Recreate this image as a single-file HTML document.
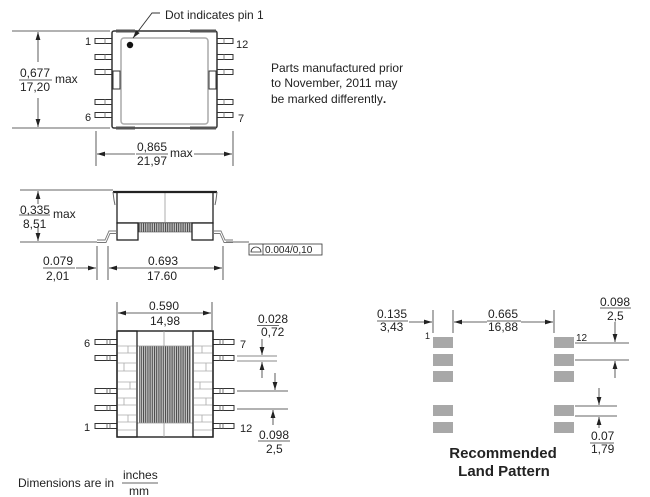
<!DOCTYPE html>
<html><head><meta charset="utf-8"><style>
html,body{margin:0;padding:0;background:#fff;}
svg{display:block;}
text{font-family:"Liberation Sans",Arial,sans-serif;fill:#222;}
</style></head><body>
<svg width="650" height="497" viewBox="0 0 650 497" xmlns="http://www.w3.org/2000/svg">
<defs>
<marker id="a" viewBox="0 0 10 6" refX="10" refY="3" markerWidth="8" markerHeight="5" markerUnits="userSpaceOnUse" orient="auto-start-reverse"><path d="M0,0 L10,3 L0,6 z" fill="#222"/></marker>
<pattern id="hv" patternUnits="userSpaceOnUse" width="2.2" height="10"><rect width="2.2" height="10" fill="#c8c8c8"/><rect width="1" height="10" fill="#444"/></pattern>
</defs>

<!-- ============ TOP VIEW ============ -->
<g stroke="#333" stroke-width="0.8" fill="none">
  <line x1="12" y1="31" x2="110" y2="31"/>
  <line x1="12" y1="128" x2="110" y2="128"/>
  <line x1="38" y1="62" x2="38" y2="32" marker-end="url(#a)"/>
  <line x1="38" y1="98" x2="38" y2="127" marker-end="url(#a)"/>
  <line x1="19" y1="80" x2="52" y2="80"/>
  <line x1="96" y1="131" x2="96" y2="166"/>
  <line x1="233" y1="131" x2="233" y2="166"/>
  <line x1="135" y1="154" x2="97" y2="154" marker-end="url(#a)"/>
  <line x1="194" y1="154" x2="232" y2="154" marker-end="url(#a)"/>
  <line x1="136" y1="154" x2="168" y2="154"/>
</g>
<text x="20" y="77" font-size="12">0,677</text>
<text x="20" y="91" font-size="12">17,20</text>
<text x="55" y="83" font-size="12">max</text>
<text x="137" y="151" font-size="12">0,865</text>
<text x="137" y="165" font-size="12">21,97</text>
<text x="170" y="157" font-size="12">max</text>

<!-- pins top view -->
<g stroke="#333" stroke-width="1" fill="#fff">
  <rect x="95" y="38.5" width="17" height="5"/><rect x="95" y="54.5" width="17" height="5"/><rect x="95" y="69.5" width="17" height="5"/><rect x="95" y="99.5" width="17" height="5"/><rect x="95" y="112.5" width="17" height="5"/>
  <rect x="217" y="38.5" width="16" height="5"/><rect x="217" y="54.5" width="16" height="5"/><rect x="217" y="69.5" width="16" height="5"/><rect x="217" y="99.5" width="16" height="5"/><rect x="217" y="112.5" width="16" height="5"/>
</g>
<g stroke="#666" stroke-width="0.8">
  <line x1="105" y1="38" x2="105" y2="44"/><line x1="105" y1="54" x2="105" y2="60"/><line x1="105" y1="69" x2="105" y2="75"/><line x1="105" y1="99" x2="105" y2="105"/><line x1="105" y1="112" x2="105" y2="118"/>
  <line x1="224" y1="38" x2="224" y2="44"/><line x1="224" y1="54" x2="224" y2="60"/><line x1="224" y1="69" x2="224" y2="75"/><line x1="224" y1="99" x2="224" y2="105"/><line x1="224" y1="112" x2="224" y2="118"/>
</g>
<!-- body -->
<rect x="112" y="31" width="105" height="97" rx="2" fill="#fff" stroke="#333" stroke-width="1.5"/>
<rect x="121" y="38" width="87" height="86" rx="3" fill="#fff" stroke="#aaa" stroke-width="1.5"/>
<rect x="116" y="29.5" width="19" height="3" fill="#555"/>
<rect x="190" y="29.5" width="26" height="3" fill="#555"/>
<rect x="116" y="126.5" width="19" height="3" fill="#555"/>
<rect x="190" y="126.5" width="26" height="3" fill="#555"/>
<rect x="113" y="71" width="7" height="18" fill="#fff" stroke="#333" stroke-width="1"/>
<rect x="209" y="71" width="7" height="18" fill="#fff" stroke="#333" stroke-width="1"/>
<circle cx="130" cy="45" r="3.2" fill="#111"/>
<polyline points="160,13 152,13 133,38" fill="none" stroke="#333" stroke-width="0.9" marker-end="url(#a)"/>
<text x="165" y="19" font-size="12">Dot indicates pin 1</text>
<text x="85" y="45" font-size="11">1</text>
<text x="85" y="121" font-size="11">6</text>
<text x="236" y="48" font-size="11">12</text>
<text x="238" y="122" font-size="11">7</text>

<text x="271" y="72" font-size="12">Parts manufactured prior</text>
<text x="271" y="87" font-size="12">to November, 2011 may</text>
<text x="271" y="103" font-size="12">be marked differently<tspan font-weight="bold">.</tspan></text>

<!-- ============ SIDE VIEW ============ -->
<g stroke="#333" stroke-width="0.8" fill="none">
  <line x1="20" y1="190" x2="113" y2="190"/>
  <line x1="20" y1="242" x2="97" y2="242"/>
  <line x1="38" y1="204" x2="38" y2="191" marker-end="url(#a)"/>
  <line x1="38" y1="226" x2="38" y2="241" marker-end="url(#a)"/>
  <line x1="19" y1="215" x2="50" y2="215"/>
  <line x1="97" y1="246" x2="97" y2="280"/>
  <line x1="108" y1="246" x2="108" y2="280"/>
  <line x1="223" y1="246" x2="223" y2="280"/>
  <line x1="76" y1="268" x2="96" y2="268" marker-end="url(#a)"/>
  <line x1="43" y1="268" x2="75" y2="268"/>
  <line x1="109" y1="268" x2="222" y2="268" marker-start="url(#a)" marker-end="url(#a)"/>
  <line x1="226" y1="242" x2="249" y2="242"/>
</g>
<text x="20" y="214" font-size="12">0,335</text>
<text x="23" y="228" font-size="12">8,51</text>
<text x="53" y="218" font-size="12">max</text>
<text x="43" y="265" font-size="12">0.079</text>
<text x="46" y="280" font-size="12">2,01</text>
<text x="148" y="265" font-size="12">0.693</text>
<text x="147" y="280" font-size="12">17.60</text>

<!-- side body -->
<rect x="117" y="192" width="96" height="31" fill="#fff" stroke="#222" stroke-width="1.3"/>
<line x1="165" y1="192" x2="165" y2="223" stroke="#999" stroke-width="0.8"/>
<line x1="113" y1="192" x2="217" y2="192" stroke="#222" stroke-width="2.2"/>
<polyline points="113,192 114,200 115,205" fill="none" stroke="#666" stroke-width="1"/>
<polyline points="217,192 216,200 215,205" fill="none" stroke="#666" stroke-width="1"/>
<rect x="138" y="223" width="54" height="9" fill="url(#hv)" stroke="#555" stroke-width="0.6"/>
<rect x="117" y="223" width="21" height="17" fill="#fff" stroke="#222" stroke-width="1.3"/>
<rect x="192" y="223" width="21" height="17" fill="#fff" stroke="#222" stroke-width="1.3"/>
<g fill="none" stroke="#777" stroke-width="0.9">
  <polyline points="97,240 105,240 109,231 117,231"/>
  <polyline points="97,242.5 106,242.5 110,233.5 117,233.5"/>
  <polyline points="213,231 221,231 225,240 233,240"/>
  <polyline points="213,233.5 220,233.5 224,242.5 233,242.5"/>
</g>
<!-- flatness box -->
<rect x="249" y="244" width="73" height="11" fill="#fff" stroke="#333" stroke-width="0.8"/>
<line x1="263" y1="244" x2="263" y2="255" stroke="#333" stroke-width="0.8"/>
<path d="M251,252 A5,5 0 0 1 261,252 Z" fill="none" stroke="#333" stroke-width="0.8"/>
<text x="265" y="253" font-size="10">0.004/0,10</text>

<!-- ============ BOTTOM VIEW ============ -->
<g stroke="#333" stroke-width="0.8" fill="none">
  <line x1="117" y1="302" x2="117" y2="330"/>
  <line x1="212" y1="302" x2="212" y2="330"/>
  <line x1="118" y1="313" x2="211" y2="313" marker-start="url(#a)" marker-end="url(#a)"/>
</g>
<text x="149" y="310" font-size="12">0.590</text>
<text x="150" y="325" font-size="12">14,98</text>

<!-- pins bottom view -->
<g stroke="#333" stroke-width="1" fill="#fff">
  <rect x="95" y="339.5" width="22" height="5"/><rect x="95" y="355.5" width="22" height="5"/><rect x="95" y="388.5" width="22" height="5"/><rect x="95" y="405.5" width="22" height="5"/><rect x="95" y="423.5" width="22" height="5"/>
  <rect x="213" y="339.5" width="21" height="5"/><rect x="213" y="355.5" width="21" height="5"/><rect x="213" y="388.5" width="21" height="5"/><rect x="213" y="405.5" width="21" height="5"/><rect x="213" y="423.5" width="21" height="5"/>
</g>
<g stroke="#555" stroke-width="0.8">
  <path d="M107,339v6M110,339v6M107,355v6M110,355v6M107,388v6M110,388v6M107,405v6M110,405v6M107,423v6M110,423v6"/>
  <path d="M220,339v6M223,339v6M220,355v6M223,355v6M220,388v6M223,388v6M220,405v6M223,405v6M220,423v6M223,423v6"/>
</g>
<!-- body -->
<rect x="117" y="331" width="96" height="106" fill="#fff" stroke="#222" stroke-width="1.4"/>
<rect x="139" y="346" width="52" height="77" fill="url(#hv)"/>
<line x1="137" y1="346" x2="193" y2="346" stroke="#999" stroke-width="0.8"/>
<line x1="137" y1="423" x2="193" y2="423" stroke="#999" stroke-width="0.8"/>
<line x1="164" y1="331" x2="164" y2="346" stroke="#999" stroke-width="0.8"/>
<line x1="164" y1="423" x2="164" y2="437" stroke="#999" stroke-width="0.8"/>
<rect x="117" y="331" width="20" height="106" fill="none" stroke="#222" stroke-width="1.3"/>
<rect x="193" y="331" width="20" height="106" fill="none" stroke="#222" stroke-width="1.3"/>
<g stroke="#aaa" stroke-width="0.8" fill="none">
  <path d="M118,346H136M118,353H136M118,363H136M118,371H136M118,382H136M118,389H136M118,398H136M118,405H136M118,415H136M118,422H136M118,430H136"/>
  <path d="M194,346H212M194,353H212M194,363H212M194,371H212M194,382H212M194,389H212M194,398H212M194,405H212M194,415H212M194,422H212M194,430H212"/>
  <path d="M128,346v7M124,363v8M130,382v7M124,398v7M128,415v7M202,346v7M206,363v8M200,382v7M206,398v7M202,415v7"/>
</g>
<text x="84" y="347" font-size="11">6</text>
<text x="84" y="431" font-size="11">1</text>
<text x="240" y="348" font-size="11">7</text>
<text x="240" y="432" font-size="11">12</text>

<!-- right dims bottom view -->
<text x="258" y="323" font-size="12">0.028</text>
<line x1="257" y1="325.5" x2="279" y2="325.5" stroke="#333" stroke-width="0.8"/>
<text x="261" y="336" font-size="12">0,72</text>
<g stroke="#888" stroke-width="0.9"><line x1="237" y1="356" x2="277" y2="356"/><line x1="237" y1="361" x2="277" y2="361"/></g>
<g stroke="#333" stroke-width="0.8" fill="none">
  <line x1="262" y1="339" x2="262" y2="355" marker-end="url(#a)"/>
  <line x1="262" y1="378" x2="262" y2="362" marker-end="url(#a)"/>
  <line x1="237" y1="391" x2="288" y2="391"/>
  <line x1="237" y1="409" x2="288" y2="409"/>
  <line x1="275" y1="373" x2="275" y2="390" marker-end="url(#a)"/>
  <line x1="273" y1="425" x2="273" y2="410" marker-end="url(#a)"/>
  <line x1="258" y1="441" x2="290" y2="441"/>
</g>
<text x="259" y="439" font-size="12">0.098</text>
<text x="266" y="453" font-size="12">2,5</text>

<!-- ============ LAND PATTERN ============ -->
<g fill="#a8a8a8">
  <rect x="433" y="337" width="20" height="11"/><rect x="433" y="354" width="20" height="12"/><rect x="433" y="371" width="20" height="11"/><rect x="433" y="405" width="20" height="11"/><rect x="433" y="422" width="20" height="11"/>
  <rect x="554" y="337" width="20" height="11"/><rect x="554" y="354" width="20" height="12"/><rect x="554" y="371" width="20" height="11"/><rect x="554" y="405" width="20" height="11"/><rect x="554" y="422" width="20" height="11"/>
</g>
<g stroke="#333" stroke-width="0.8" fill="none">
  <line x1="433" y1="310" x2="433" y2="333"/>
  <line x1="453" y1="310" x2="453" y2="333"/>
  <line x1="554" y1="310" x2="554" y2="333"/>
  <line x1="377" y1="322" x2="432" y2="322" marker-end="url(#a)"/>
  <line x1="454" y1="322" x2="553" y2="322" marker-start="url(#a)" marker-end="url(#a)"/>
  <line x1="600" y1="308" x2="631" y2="308"/>
  <line x1="615" y1="322" x2="615" y2="342" marker-end="url(#a)"/>
  <line x1="575" y1="343" x2="629" y2="343"/>
  <line x1="575" y1="360" x2="629" y2="360"/>
  <line x1="615" y1="378" x2="615" y2="361" marker-end="url(#a)"/>
  <line x1="575" y1="406" x2="617" y2="406"/>
  <line x1="575" y1="416" x2="617" y2="416"/>
  <line x1="599" y1="388" x2="599" y2="405" marker-end="url(#a)"/>
  <line x1="599" y1="428" x2="599" y2="417" marker-end="url(#a)"/>
  <line x1="590" y1="443" x2="614" y2="443"/>
</g>
<rect x="377" y="316" width="32" height="10" fill="#fff"/>
<rect x="487" y="316" width="34" height="10" fill="#fff"/>
<line x1="377" y1="321" x2="408" y2="321" stroke="#333" stroke-width="0.8"/>
<text x="377" y="318" font-size="12">0.135</text>
<text x="380" y="331" font-size="12">3,43</text>
<line x1="487" y1="321" x2="521" y2="321" stroke="#333" stroke-width="0.8"/>
<text x="488" y="318" font-size="12">0.665</text>
<text x="488" y="331" font-size="12">16,88</text>
<text x="425" y="339" font-size="9">1</text>
<text x="576" y="341" font-size="10">12</text>
<text x="600" y="306" font-size="12">0.098</text>
<text x="607" y="320" font-size="12">2,5</text>
<text x="591" y="440" font-size="12">0.07</text>
<text x="591" y="453" font-size="12">1,79</text>
<text x="503" y="458" font-size="15" font-weight="bold" text-anchor="middle">Recommended</text>
<text x="504" y="476" font-size="15" font-weight="bold" text-anchor="middle">Land Pattern</text>

<!-- footer -->
<text x="18" y="487" font-size="12">Dimensions are in</text>
<text x="123" y="479" font-size="12">inches</text>
<line x1="122" y1="483" x2="158" y2="483" stroke="#333" stroke-width="0.8"/>
<text x="129" y="495" font-size="12">mm</text>
</svg>
</body></html>
